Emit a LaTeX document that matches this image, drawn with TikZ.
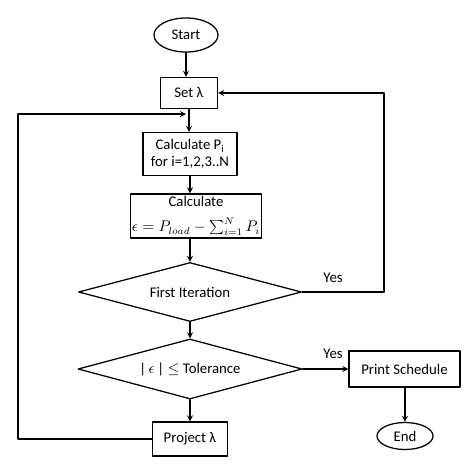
\documentclass[tikz,border=0pt]{standalone}
\usepackage{fontspec}
\setmainfont{Carlito}
\usetikzlibrary{shapes.geometric}
\begin{document}
\begin{tikzpicture}[x=0.025cm,y=-0.025cm,>=stealth, font=\fontsize{10.5}{12}\selectfont, line join=round, line cap=round, line width=0.9pt,
	term/.style={draw,ellipse,inner sep=0pt},
	proc/.style={draw,rectangle,inner sep=1pt,align=center},
	test/.style={draw,diamond,inner sep=0pt,aspect=3.8}]
	\useasboundingbox (0,0) rectangle (474,474);
	%Các khối
	\node[term,minimum width=1.6cm,minimum height=0.85cm] (start) at (186,35) {Start};
	\node[proc,minimum width=1.425cm,minimum height=0.775cm] (set) at (189,93) {Set λ};
	\node[proc,minimum width=2.35cm,minimum height=1.075cm] (calcp) at (190,154) {Calculate P\textsubscript{i}\\for i=1,2,3..N};
	\node[proc,minimum width=3.275cm,minimum height=1.1cm] (eps) at (196,216) {Calculate\\[6pt]$\epsilon = P_{load} - \sum_{i=1}^{N} P_i$};
	\node[test,minimum width=5.575cm,minimum height=1.475cm] (first) at (190,292) {First Iteration};
	\node[test,minimum width=5.6cm,minimum height=1.5cm] (tol) at (190,369) {|\,$\epsilon$\,| $\leq$ Tolerance};
	\node[proc,minimum width=2.775cm,minimum height=0.9cm] (print) at (404.5,369) {Print Schedule};
	\node[term,minimum width=1.4cm,minimum height=0.675cm] (end) at (405,436) {End};
	\node[proc,minimum width=1.875cm,minimum height=0.85cm] (proj) at (190,439) {Project λ};
	\node (yes1) at (333,278) {Yes};
	\node (yes2) at (333,354) {Yes};
	\path (186,114) coordinate (join) (384,0) coordinate (yesR) (18,0) coordinate (backL);
	%Các mũi tên
	\draw[->] (start.south)--(start.south|-set.north);
	\draw[->] (set.south)--(set.south|-calcp.north);
	\draw[->] (calcp.south)--(calcp.south|-eps.north);
	\draw[->] (eps.south-|first.north)--(first.north);
	\draw[->] (first.south)--(tol.north);
	\draw[->] (tol.south)--(proj.north);
	\draw[->] (tol.east)--(print.west);
	\draw[->] (print.south-|end.north)--(end.north);
	\draw[->] (first.east)-|(yesR|-set.east)--(set.east);
	\draw[->] (proj.west)-|(backL|-join)--(join);
\end{tikzpicture}
\end{document}
